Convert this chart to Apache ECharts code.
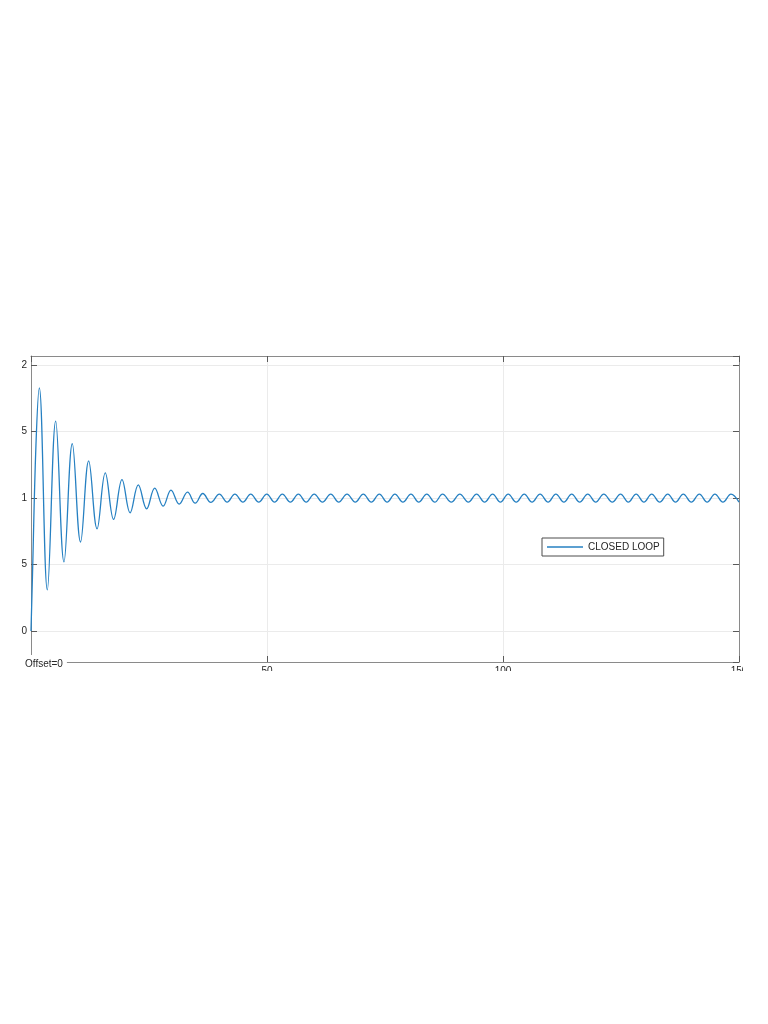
<!DOCTYPE html>
<html>
<head>
<meta charset="utf-8">
<script src="https://cdn.jsdelivr.net/npm/echarts@6/dist/echarts.min.js"></script>
<style>
  html, body { margin: 0; padding: 0; background: #fff; }
  #clip { position: absolute; left: 0; top: 0; width: 743px; height: 671px; overflow: hidden; }
  #chart { width: 768px; height: 1024px; }
</style>
</head>
<body>
<div id="clip"><div id="chart"></div></div>
<script>
// transient part: rise, then decaying peaks / troughs
const transientT = [0, 0.3, 1.05, 1.76, 3.46, 5.23, 6.99, 8.75, 10.5, 12.22, 14.0, 15.74, 17.5,
  19.28, 21.0, 22.73, 24.5, 26.21, 28.0, 29.66, 31.4, 33.16, 34.8]
const transientY = [0, 0.4, 1.4, 1.83, 0.31, 1.58, 0.52, 1.41, 0.67, 1.28, 0.77, 1.19, 0.84,
  1.14, 0.89, 1.10, 0.92, 1.075, 0.94, 1.06, 0.955, 1.045, 0.962]

// sustained small ripple around 1 (peak, trough pairs)
const steadyT = [36.4, 38.1, 39.9, 41.55, 43.2, 44.9, 46.55, 48.25, 49.95, 51.6, 53.25, 54.95,
  56.65, 58.3, 60.0, 61.75, 63.5, 65.2, 66.95, 68.7, 70.4, 72.1, 73.8, 75.45, 77.1, 78.8,
  80.5, 82.15, 83.85, 85.55, 87.2, 89.05, 90.85, 92.65, 94.4, 96.1, 97.8, 99.45, 101.1, 102.8,
  104.5, 106.15, 107.85, 109.55, 111.2, 112.9, 114.55, 116.25, 117.95, 119.65, 121.35, 123.15,
  124.9, 126.55, 128.2, 129.85, 131.5, 133.2, 134.9, 136.55, 138.2, 139.9, 141.6, 143.25,
  144.9, 146.6, 148.3, 150]
const steadyY = [1.035, 0.968, 1.03, 0.97, 1.03, 0.97, 1.03, 0.97, 1.03, 0.97, 1.03, 0.97,
  1.03, 0.97, 1.03, 0.97, 1.03, 0.97, 1.03, 0.97, 1.03, 0.97, 1.03, 0.97, 1.03, 0.97,
  1.03, 0.97, 1.03, 0.97, 1.03, 0.97, 1.03, 0.97, 1.03, 0.97, 1.03, 0.97, 1.03, 0.97,
  1.03, 0.97, 1.03, 0.97, 1.03, 0.97, 1.03, 0.97, 1.03, 0.97, 1.03, 0.97,
  1.03, 0.97, 1.03, 0.97, 1.03, 0.97, 1.03, 0.97, 1.03, 0.97, 1.03, 0.97,
  1.03, 0.97, 1.03, 0.97]

const yTickValues = [0, 0.5, 1, 1.5, 2]
const yTickLabels = ['0', '5', '1', '5', '2']   // as cut off in the original
const xTickValues = [50, 100, 150]

const seriesName = 'CLOSED LOOP'
const lineColor = '#2680c2'
const frameColor = '#8a8a8a'
const gridColor = '#ebebeb'
const labelColor = '#262626'
const font = "'Liberation Sans', Arial, sans-serif"

const times = transientT.concat(steadyT)
const values = transientY.concat(steadyY)
const lineData = times.map((t, i) => [t, values[i]])

const yMin = -0.233
const yMax = 2.07

function yLabel(v) {
  const i = yTickValues.findIndex(t => Math.abs(t - v) < 1e-6)
  return i >= 0 ? yTickLabels[i] : ''
}
function xLabel(v) {
  return xTickValues.indexOf(v) >= 0 ? String(v) : ''
}

const tickStyle = { show: true, inside: true, length: 6, lineStyle: { color: '#5a5a5a', width: 1 } }

const option = {
  animation: false,
  backgroundColor: '#fff',
  grid: { left: 31, right: 29, top: 356, bottom: 362 },
  legend: {
    data: [{ name: seriesName, icon: 'rect' }],
    left: 542,
    top: 538,
    itemWidth: 36,
    itemHeight: 1.5,
    padding: [4, 4, 4, 5],
    borderColor: '#4d4d4d',
    borderWidth: 1,
    borderRadius: 0,
    backgroundColor: '#fff',
    textStyle: { fontSize: 10, color: labelColor, fontFamily: font }
  },
  xAxis: [
    {
      type: 'value', position: 'bottom', min: 0, max: 150, interval: 50,
      axisLine: { show: true, onZero: false, lineStyle: { color: frameColor, width: 1 } },
      axisTick: tickStyle,
      axisLabel: { formatter: xLabel, fontSize: 10, color: labelColor, fontFamily: font, margin: 4 },
      splitLine: { show: true, lineStyle: { color: gridColor, width: 1 } }
    },
    {
      type: 'value', position: 'top', min: 0, max: 150, interval: 50,
      axisLine: { show: true, onZero: false, lineStyle: { color: frameColor, width: 1 } },
      axisTick: tickStyle,
      axisLabel: { show: false },
      splitLine: { show: false }
    }
  ],
  yAxis: [
    {
      type: 'value', position: 'left', min: yMin, max: yMax, splitNumber: 5,
      axisLine: { show: true, onZero: false, lineStyle: { color: frameColor, width: 1 } },
      axisTick: tickStyle,
      axisLabel: { formatter: yLabel, fontSize: 10, color: labelColor, fontFamily: font, margin: 4,
        showMinLabel: false, showMaxLabel: false },
      splitLine: { show: true, showMinLine: false, showMaxLine: false, lineStyle: { color: gridColor, width: 1 } }
    },
    {
      type: 'value', position: 'right', min: yMin, max: yMax, splitNumber: 5,
      axisLine: { show: true, onZero: false, lineStyle: { color: frameColor, width: 1 } },
      axisTick: tickStyle,
      axisLabel: { show: false },
      splitLine: { show: false }
    }
  ],
  graphic: [
    {
      type: 'text', z: 100, x: 23, y: 664,
      style: {
        text: 'Offset=0', font: '10px ' + font, fill: labelColor,
        textVerticalAlign: 'middle', verticalAlign: 'middle',
        backgroundColor: '#fff', padding: [6, 4, 2, 2]
      }
    }
  ],
  series: [
    {
      name: seriesName,
      type: 'line',
      xAxisIndex: 0,
      yAxisIndex: 0,
      data: lineData,
      smooth: 0.4,
      symbol: 'none',
      lineStyle: { color: lineColor, width: 1.3 },
      itemStyle: { color: lineColor }
    }
  ]
}

const chart = echarts.init(document.getElementById('chart'))
chart.setOption(option)
</script>
</body>
</html>
